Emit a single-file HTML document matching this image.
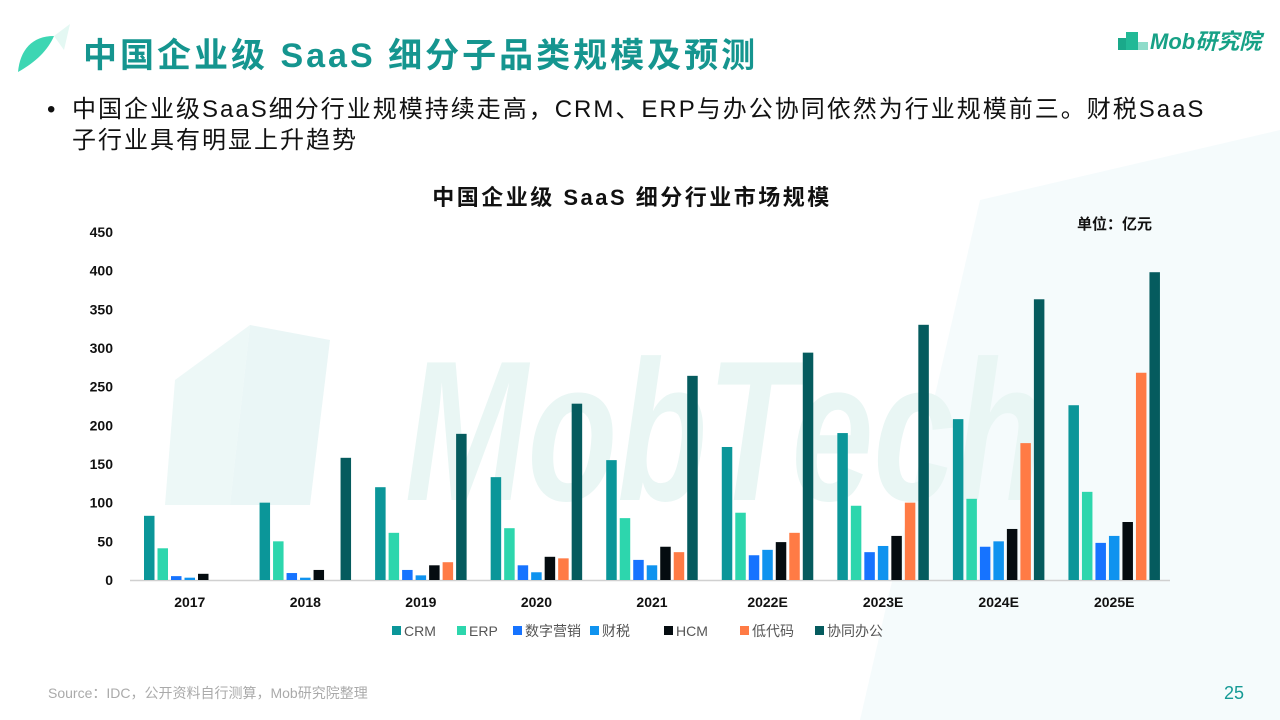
<!DOCTYPE html>
<html><head><meta charset="utf-8">
<style>
body{margin:0;width:1280px;height:720px;overflow:hidden;background:#fff;font-family:"Liberation Sans","Noto Sans CJK SC",sans-serif;position:relative}
.abs{position:absolute}
</style></head>
<body>
<svg class="abs" style="left:0;top:0" width="1280" height="720">
  <polygon points="860,720 1280,720 1280,130 980,200" fill="#f5fbfc"/>
  <polygon points="175,380 250,325 230,505 165,505" fill="#edf8f7"/>
  <polygon points="250,325 330,340 310,505 230,505" fill="#eaf6f6"/>
  <text x="405" y="500" font-size="200" font-weight="bold" font-style="italic" fill="#e9f6f4" font-family="Liberation Sans" textLength="640" lengthAdjust="spacingAndGlyphs">MobTech</text>
</svg>
<svg class="abs" style="top:20px;left:14px" width="70" height="55">
  <path d="M4,52 C6,30 18,16 40,16 C34,30 22,42 4,52Z" fill="#3dd6b3"/>
  <path d="M40,16 L56,4 L50,30 Z" fill="#d8f5ee" opacity="0.7"/>
</svg>
<div class="abs" style="left:83px;top:28px;font-size:34px;font-weight:bold;color:#15958f;letter-spacing:3px">中国企业级 SaaS 细分子品类规模及预测</div>
<div class="abs" style="left:1116px;top:24px;width:150px;height:30px">
  <svg width="36" height="28" style="position:absolute;left:0;top:0"><rect x="2" y="14" width="8" height="12" fill="#1aa98a"/><rect x="10" y="8" width="12" height="18" fill="#22b996"/><rect x="22" y="18" width="10" height="8" fill="#8fdcca"/></svg>
  <span style="position:absolute;left:34px;top:0;font-size:22px;font-weight:bold;font-style:italic;color:#17a186">Mob研究院</span>
</div>
<div class="abs" style="left:47px;top:94px;width:1220px;font-size:24px;line-height:31px;color:#111">
  <span style="position:absolute;left:0">•</span>
  <div style="margin-left:25px;letter-spacing:2px">中国企业级SaaS细分行业规模持续走高，CRM、ERP与办公协同依然为行业规模前三。财税SaaS<br>子行业具有明显上升趋势</div>
</div>
<div class="abs" style="left:0;width:1264px;top:180px;text-align:center;font-size:22px;font-weight:bold;color:#111;letter-spacing:2.5px">中国企业级 SaaS 细分行业市场规模</div>
<div class="abs" style="left:1077px;top:213px;font-size:15px;font-weight:bold;color:#111">单位：亿元</div>
<svg id="chart" class="abs" style="left:0;top:0" width="1280" height="720"></svg>
<div class="abs" style="left:48px;top:683px;font-size:14px;color:#aaa">Source：IDC，公开资料自行测算，Mob研究院整理</div>
<div class="abs" style="left:1224px;top:683px;font-size:18px;color:#159a95">25</div>
<script>
const categories=["2017","2018","2019","2020","2021","2022E","2023E","2024E","2025E"];
const seriesNames=["CRM","ERP","数字营销","财税","HCM","低代码","协同办公"];
const seriesColors=["#0b9699","#2dd6ad","#1673ff","#0f93ef","#050c10","#ff7b45","#055b5e"];
const crm=[83,100,120,133,155,172,190,208,226];
const erp=[41,50,61,67,80,87,96,105,114];
const digital=[5,9,13,19,26,32,36,43,48];
const tax=[3,3,6,10,19,39,44,50,57];
const hcm=[8,13,19,30,43,49,57,66,75];
const lowcode=[0,0,23,28,36,61,100,177,268];
const collab=[0,158,189,228,264,294,330,363,398];
const yTicks=[0,50,100,150,200,250,300,350,400,450];
const series=[crm,erp,digital,tax,hcm,lowcode,collab];
const NS="http://www.w3.org/2000/svg";
const svg=document.getElementById("chart");
const x0=130,x1=1170,y0=580,yTop=232,yMax=450;
const gw=(x1-x0)/categories.length;
const y=v=>y0-(v/yMax)*(y0-yTop);
const bx=(g,s)=>x0+g*gw+14+s*13.5;
function mk(t,a){const e=document.createElementNS(NS,t);for(const k in a)e.setAttribute(k,a[k]);svg.appendChild(e);return e;}
yTicks.forEach(t=>{const e=mk("text",{x:113,y:y(t)+5,"text-anchor":"end","font-size":14,"font-weight":"bold",fill:"#111"});e.textContent=t;

});
const ax=mk("line",{x1:x0,x2:x1,y1:y0+0.5,y2:y0+0.5,stroke:"#d0d0d0","stroke-width":1.5});


categories.forEach((c,g)=>{
  series.forEach((arr,s)=>{const v=arr[g];if(v<=0)return;
    const r=mk("rect",{x:bx(g,s),y:y(v),width:10.5,height:y0-y(v),fill:seriesColors[s]});
    
    });
  const t=mk("text",{x:x0+g*gw+gw/2+2,y:607,"text-anchor":"middle","font-size":14,"font-weight":"bold",fill:"#111"});t.textContent=c;
  
  
});
const legX=[392,457,513,590,664,740,815];
seriesNames.forEach((n,i)=>{
  const r=mk("rect",{x:legX[i],y:626,width:9,height:9,fill:seriesColors[i]});
  
  
  const t=mk("text",{x:legX[i]+12,y:636,"font-size":14,fill:"#555"});t.textContent=n;
  
  
});
</script>
</body></html>
